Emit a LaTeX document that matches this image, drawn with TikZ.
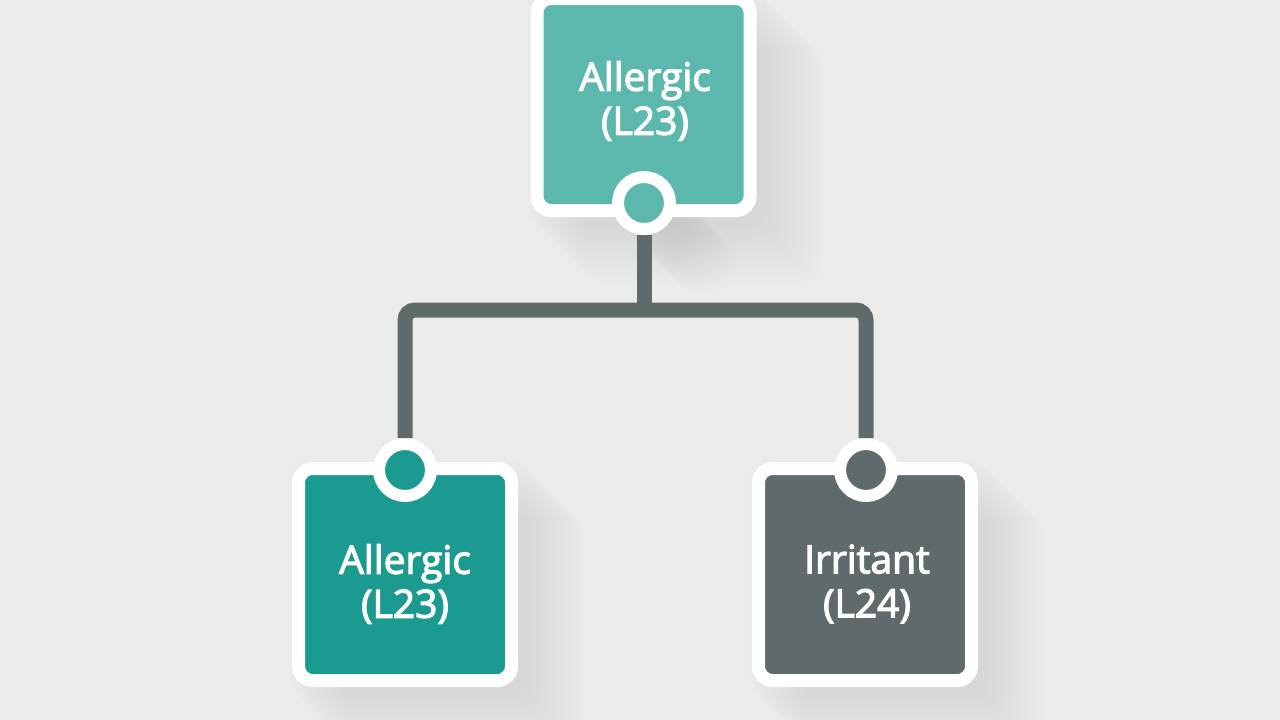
\documentclass[tikz,border=0pt]{standalone}
\usepackage{fontspec}
\setmainfont{Open Sans}
\newfontfamily\cardfont{Open Sans}[FakeBold=3]
\definecolor{bgc}{HTML}{EBEBEA}
\definecolor{tealL}{HTML}{5CB8AD}
\definecolor{tealD}{HTML}{1B9A90}
\definecolor{grayB}{HTML}{5F6A6D}
\definecolor{connc}{HTML}{5F6B6B}
\tikzset{
  cardbox/.style={rectangle, draw=white, line width=13pt, rounded corners=14pt,
    minimum width=213pt, minimum height=212pt, inner sep=0pt},
  ringdot/.style={circle, draw=white, line width=12pt, minimum size=52pt, inner sep=0pt},
  cardtext/.style={text=white, align=center, font=\cardfont\fontsize{39}{44}\selectfont},
  connline/.style={draw=connc, line width=15pt, rounded corners=10pt},
  shadowc/.style={fill=black, fill opacity=0.0055},
}
\begin{document}
\begin{tikzpicture}[x=1pt, y=-1pt]
\fill[bgc] (0,0) rectangle (1280,720);
\useasboundingbox (0,0) rectangle (1280,720);
% invisible placement of nodes for shadows
\path (643.5,104.5) node[cardbox, draw=none] (topS) {}
      (405,574.5) node[cardbox, draw=none] (leftS) {}
      (865,574.5) node[cardbox, draw=none] (rightS) {};
% shadows
\foreach \k in {1,...,20}{
  \foreach \b in {topS,leftS,rightS}{
    \fill[shadowc, rounded corners=20pt]
      ([shift={(3*\k-6.5,3*\k-6.5)}]\b.north west) rectangle ([shift={(3*\k+6.5,3*\k+6.5)}]\b.south east);
  }
  \fill[shadowc] (643+3*\k,203+3*\k) circle (32);
}
% cards
\node[cardbox, fill=tealL] (top) at (643.5,104.5) {};
\node[cardbox, fill=tealD] (left) at (405,574.5) {};
\node[cardbox, fill=grayB] (right) at (865,574.5) {};
% dots
\node[ringdot, fill=tealL] (topdot) at (644,203) {};
\node[ringdot, fill=tealD] (ldot) at (405,470) {};
\node[ringdot, fill=grayB] (rdot) at (866,470) {};
% connectors
\coordinate (bar) at (topdot.south |- 0,310);
\draw[connline] (ldot.north) |- (bar) -| (rdot.north);
\draw[connline] (topdot.south) -- (bar);
% texts
\node[cardtext] (toptxt) at (645,101) {Allergic\\(L23)};
\node[cardtext] (lefttxt) at (405,584) {Allergic\\(L23)};
\node[cardtext] (righttxt) at (867,584) {Irritant\\(L24)};
\end{tikzpicture}
\end{document}
